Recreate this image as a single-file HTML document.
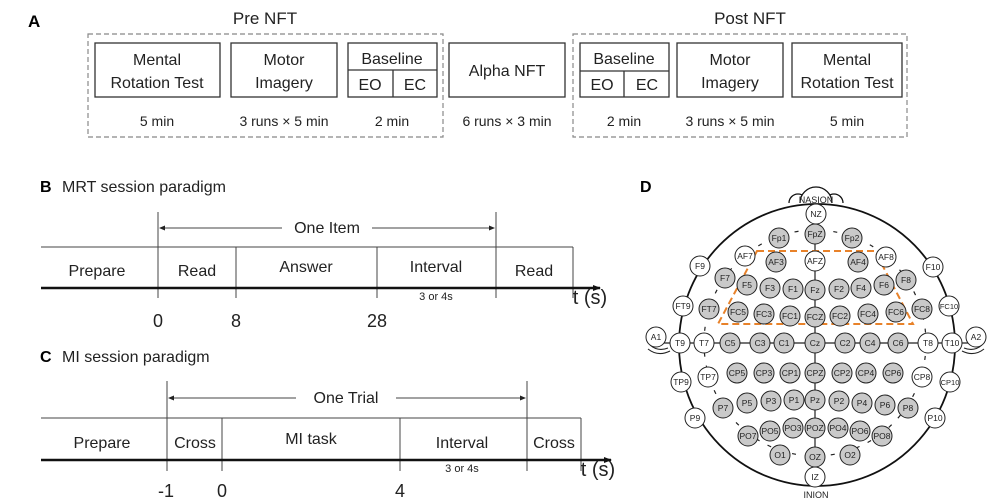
<!DOCTYPE html>
<html><head><meta charset="utf-8"><style>
html,body{margin:0;padding:0;background:#fff}
svg{display:block;font-family:"Liberation Sans",Arial,sans-serif}
</style></head><body>
<svg width="998" height="504" viewBox="0 0 998 504" xmlns="http://www.w3.org/2000/svg">
<defs>
<marker id="ah" markerWidth="8" markerHeight="8" refX="7" refY="4" orient="auto" markerUnits="userSpaceOnUse"><path d="M0,1 L8,4 L0,7 z" fill="#111"/></marker>
<marker id="ahs" markerWidth="6" markerHeight="6" refX="5" refY="3" orient="auto-start-reverse" markerUnits="userSpaceOnUse"><path d="M0,0.5 L6,3 L0,5.5 z" fill="#222"/></marker>
</defs>
<!-- Panel A -->
<text x="28" y="27" font-size="17" font-weight="bold">A</text>
<text x="265" y="24" font-size="17" text-anchor="middle" fill="#222">Pre NFT</text>
<text x="750" y="24" font-size="17" text-anchor="middle" fill="#222">Post NFT</text>
<g fill="none" stroke="#888" stroke-width="1.2" stroke-dasharray="5,3">
<rect x="88" y="34" width="355" height="103"/>
<rect x="573" y="34" width="334" height="103"/>
</g>
<g fill="none" stroke="#333" stroke-width="1.3">
<rect x="95" y="43" width="125" height="54"/>
<rect x="231" y="43" width="106" height="54"/>
<rect x="348" y="43" width="89" height="54"/>
<line x1="348" y1="70" x2="437" y2="70"/><line x1="393" y1="70" x2="393" y2="97"/>
<rect x="449" y="43" width="116" height="54"/>
<rect x="580" y="43" width="89" height="54"/>
<line x1="580" y1="71" x2="669" y2="71"/><line x1="624" y1="71" x2="624" y2="97"/>
<rect x="677" y="43" width="106" height="54"/>
<rect x="792" y="43" width="110" height="54"/>
</g>
<g font-size="16" text-anchor="middle" fill="#222">
<text x="157" y="65">Mental</text><text x="157" y="88">Rotation Test</text>
<text x="284" y="65">Motor</text><text x="284" y="88">Imagery</text>
<text x="392" y="64">Baseline</text><text x="370" y="90">EO</text><text x="415" y="90">EC</text>
<text x="507" y="76">Alpha NFT</text>
<text x="624" y="64">Baseline</text><text x="602" y="90">EO</text><text x="647" y="90">EC</text>
<text x="730" y="65">Motor</text><text x="730" y="88">Imagery</text>
<text x="847" y="65">Mental</text><text x="847" y="88">Rotation Test</text>
</g>
<g font-size="14" text-anchor="middle" fill="#222">
<text x="157" y="126">5 min</text><text x="284" y="126">3 runs × 5 min</text><text x="392" y="126">2 min</text>
<text x="507" y="126">6 runs × 3 min</text>
<text x="624" y="126">2 min</text><text x="730" y="126">3 runs × 5 min</text><text x="847" y="126">5 min</text>
</g>
<!-- Panel B -->
<text x="40" y="192" font-size="16" font-weight="bold">B</text>
<text x="62" y="192" font-size="16" fill="#222">MRT session paradigm</text>
<g stroke="#444" stroke-width="1" fill="none">
<line x1="41" y1="247" x2="573" y2="247"/>
<line x1="158" y1="212" x2="158" y2="298"/>
<line x1="236" y1="247" x2="236" y2="298"/>
<line x1="377" y1="247" x2="377" y2="298"/>
<line x1="496" y1="212" x2="496" y2="298"/>
<line x1="573" y1="247" x2="573" y2="298"/>
<line x1="160" y1="228" x2="282" y2="228" marker-start="url(#ahs)"/>
<line x1="372" y1="228" x2="494" y2="228" marker-end="url(#ahs)"/>
</g>
<line x1="41" y1="288" x2="600" y2="288" stroke="#111" stroke-width="2.5" marker-end="url(#ah)"/>
<g font-size="16" fill="#222" text-anchor="middle">
<text x="327" y="233">One Item</text>
<text x="97" y="276">Prepare</text><text x="197" y="276">Read</text><text x="306" y="272">Answer</text>
<text x="436" y="272">Interval</text><text x="534" y="276">Read</text>
</g>
<text x="436" y="300" font-size="11" text-anchor="middle" fill="#222">3 or 4s</text>
<g font-size="18" fill="#222" text-anchor="middle">
<text x="158" y="327">0</text><text x="236" y="327">8</text><text x="377" y="327">28</text>
</g>
<text x="590" y="304" font-size="20" text-anchor="middle" fill="#222">t (s)</text>
<!-- Panel C -->
<text x="40" y="362" font-size="16" font-weight="bold">C</text>
<text x="62" y="362" font-size="16" fill="#222">MI session paradigm</text>
<g stroke="#444" stroke-width="1" fill="none">
<line x1="41" y1="418" x2="581" y2="418"/>
<line x1="167" y1="381" x2="167" y2="471"/>
<line x1="222" y1="418" x2="222" y2="471"/>
<line x1="400" y1="418" x2="400" y2="471"/>
<line x1="527" y1="381" x2="527" y2="471"/>
<line x1="581" y1="418" x2="581" y2="471"/>
<line x1="169" y1="398" x2="296" y2="398" marker-start="url(#ahs)"/>
<line x1="396" y1="398" x2="525" y2="398" marker-end="url(#ahs)"/>
</g>
<line x1="41" y1="460" x2="611" y2="460" stroke="#111" stroke-width="2.5" marker-end="url(#ah)"/>
<g font-size="16" fill="#222" text-anchor="middle">
<text x="346" y="403">One Trial</text>
<text x="102" y="448">Prepare</text><text x="195" y="448">Cross</text><text x="311" y="444">MI task</text>
<text x="462" y="448">Interval</text><text x="554" y="448">Cross</text>
</g>
<text x="462" y="472" font-size="11" text-anchor="middle" fill="#222">3 or 4s</text>
<g font-size="18" fill="#222" text-anchor="middle">
<text x="166" y="497">-1</text><text x="222" y="497">0</text><text x="400" y="497">4</text>
</g>
<text x="598" y="476" font-size="20" text-anchor="middle" fill="#222">t (s)</text>
<!-- Panel D -->
<text x="640" y="192" font-size="16" font-weight="bold">D</text>
<g fill="#fff" stroke="#111" stroke-width="1.3">
<path d="M789,203 A9,9 0 0 1 807,203"/>
<path d="M825,203 A9,9 0 0 1 843,203"/>
<path d="M800,203 A16,16 0 0 1 832,203"/>
</g>
<ellipse cx="817" cy="345" rx="138" ry="141" fill="none" stroke="#111" stroke-width="1.8"/>
<text x="816" y="203" font-size="9" text-anchor="middle" fill="#222">NASION</text>
<text x="816" y="498" font-size="9" text-anchor="middle" fill="#222">INION</text>
<g fill="none" stroke="#222" stroke-width="1.1">
<path d="M650,345 Q658,352 668,348"/><path d="M648,349 Q658,357 670,351"/>
<path d="M982,345 Q974,352 964,348"/><path d="M984,349 Q974,357 962,351"/>
</g>
<ellipse cx="815" cy="343" rx="111" ry="113" fill="none" stroke="#222" stroke-width="1.2" stroke-dasharray="4,9"/>
<g stroke="#222" stroke-width="1.2">
<line x1="815" y1="214" x2="815" y2="477"/>
<line x1="655" y1="343" x2="976" y2="343"/>
</g>
<path d="M757,251 L875,251 L913,324 L718,324 Z" fill="none" stroke="#e8822a" stroke-width="2" stroke-dasharray="7,4"/>
<g stroke="#222" stroke-width="1" font-size="8.5" text-anchor="middle">
<g fill="#fff">
<circle cx="816" cy="214" r="10"/><circle cx="745" cy="256" r="10"/><circle cx="815" cy="261" r="10"/><circle cx="886" cy="257" r="10"/>
<circle cx="700" cy="266" r="10"/><circle cx="933" cy="267" r="10"/><circle cx="683" cy="306" r="10"/><circle cx="949" cy="306" r="10"/>
<circle cx="656" cy="337" r="10"/><circle cx="680" cy="343" r="10"/><circle cx="704" cy="343" r="10"/><circle cx="928" cy="343" r="10"/><circle cx="952" cy="343" r="10"/><circle cx="976" cy="337" r="10"/>
<circle cx="681" cy="382" r="10"/><circle cx="708" cy="377" r="10"/><circle cx="922" cy="377" r="10"/><circle cx="950" cy="382" r="10"/>
<circle cx="695" cy="418" r="10"/><circle cx="935" cy="418" r="10"/><circle cx="815" cy="477" r="10"/>
</g>
<g fill="#c9c9c9">
<circle cx="779" cy="238" r="10"/><circle cx="815" cy="234" r="10"/><circle cx="852" cy="238" r="10"/>
<circle cx="776" cy="262" r="10"/><circle cx="858" cy="262" r="10"/>
<circle cx="725" cy="278" r="10"/><circle cx="747" cy="285" r="10"/><circle cx="770" cy="288" r="10"/><circle cx="793" cy="289" r="10"/><circle cx="815" cy="290" r="10"/><circle cx="839" cy="289" r="10"/><circle cx="861" cy="288" r="10"/><circle cx="884" cy="285" r="10"/><circle cx="906" cy="280" r="10"/>
<circle cx="709" cy="309" r="10"/><circle cx="738" cy="312" r="10"/><circle cx="764" cy="314" r="10"/><circle cx="790" cy="316" r="10"/><circle cx="815" cy="317" r="10"/><circle cx="840" cy="316" r="10"/><circle cx="868" cy="314" r="10"/><circle cx="896" cy="312" r="10"/><circle cx="922" cy="309" r="10"/>
<circle cx="730" cy="343" r="10"/><circle cx="760" cy="343" r="10"/><circle cx="784" cy="343" r="10"/><circle cx="815" cy="343" r="10"/><circle cx="845" cy="343" r="10"/><circle cx="870" cy="343" r="10"/><circle cx="898" cy="343" r="10"/>
<circle cx="737" cy="373" r="10"/><circle cx="764" cy="373" r="10"/><circle cx="790" cy="373" r="10"/><circle cx="815" cy="373" r="10"/><circle cx="842" cy="373" r="10"/><circle cx="866" cy="373" r="10"/><circle cx="893" cy="373" r="10"/>
<circle cx="723" cy="408" r="10"/><circle cx="747" cy="403" r="10"/><circle cx="771" cy="401" r="10"/><circle cx="794" cy="400" r="10"/><circle cx="815" cy="400" r="10"/><circle cx="839" cy="401" r="10"/><circle cx="862" cy="403" r="10"/><circle cx="885" cy="405" r="10"/><circle cx="908" cy="408" r="10"/>
<circle cx="748" cy="436" r="10"/><circle cx="770" cy="431" r="10"/><circle cx="793" cy="428" r="10"/><circle cx="815" cy="428" r="10"/><circle cx="838" cy="428" r="10"/><circle cx="860" cy="431" r="10"/><circle cx="882" cy="436" r="10"/>
<circle cx="780" cy="455" r="10"/><circle cx="815" cy="457" r="10"/><circle cx="850" cy="455" r="10"/>
</g>
<g fill="#222" stroke="none">
<text x="816" y="217">NZ</text><text x="745" y="259">AF7</text><text x="815" y="264">AFZ</text><text x="886" y="260">AF8</text>
<text x="700" y="269">F9</text><text x="933" y="270">F10</text><text x="683" y="309">FT9</text><text x="949" y="309" font-size="7.5">FC10</text>
<text x="656" y="340">A1</text><text x="680" y="346">T9</text><text x="704" y="346">T7</text><text x="928" y="346">T8</text><text x="952" y="346">T10</text><text x="976" y="340">A2</text>
<text x="681" y="385">TP9</text><text x="708" y="380">TP7</text><text x="922" y="380">CP8</text><text x="950" y="385" font-size="7.5">CP10</text>
<text x="695" y="421">P9</text><text x="935" y="421">P10</text><text x="815" y="480">IZ</text>
<text x="779" y="241">Fp1</text><text x="815" y="237">FpZ</text><text x="852" y="241">Fp2</text>
<text x="776" y="265">AF3</text><text x="858" y="265">AF4</text>
<text x="725" y="281">F7</text><text x="747" y="288">F5</text><text x="770" y="291">F3</text><text x="793" y="292">F1</text><text x="815" y="293">Fz</text><text x="839" y="292">F2</text><text x="861" y="291">F4</text><text x="884" y="288">F6</text><text x="906" y="283">F8</text>
<text x="709" y="312">FT7</text><text x="738" y="315">FC5</text><text x="764" y="317">FC3</text><text x="790" y="319">FC1</text><text x="815" y="320">FCZ</text><text x="840" y="319">FC2</text><text x="868" y="317">FC4</text><text x="896" y="315">FC6</text><text x="922" y="312">FC8</text>
<text x="730" y="346">C5</text><text x="760" y="346">C3</text><text x="784" y="346">C1</text><text x="815" y="346">Cz</text><text x="845" y="346">C2</text><text x="870" y="346">C4</text><text x="898" y="346">C6</text>
<text x="737" y="376">CP5</text><text x="764" y="376">CP3</text><text x="790" y="376">CP1</text><text x="815" y="376">CPZ</text><text x="842" y="376">CP2</text><text x="866" y="376">CP4</text><text x="893" y="376">CP6</text>
<text x="723" y="411">P7</text><text x="747" y="406">P5</text><text x="771" y="404">P3</text><text x="794" y="403">P1</text><text x="815" y="403">Pz</text><text x="839" y="404">P2</text><text x="862" y="406">P4</text><text x="885" y="408">P6</text><text x="908" y="411">P8</text>
<text x="748" y="439">PO7</text><text x="770" y="434">PO5</text><text x="793" y="431">PO3</text><text x="815" y="431">POZ</text><text x="838" y="431">PO4</text><text x="860" y="434">PO6</text><text x="882" y="439">PO8</text>
<text x="780" y="458">O1</text><text x="815" y="460">OZ</text><text x="850" y="458">O2</text>
</g>
</g>
</svg>
</body></html>
